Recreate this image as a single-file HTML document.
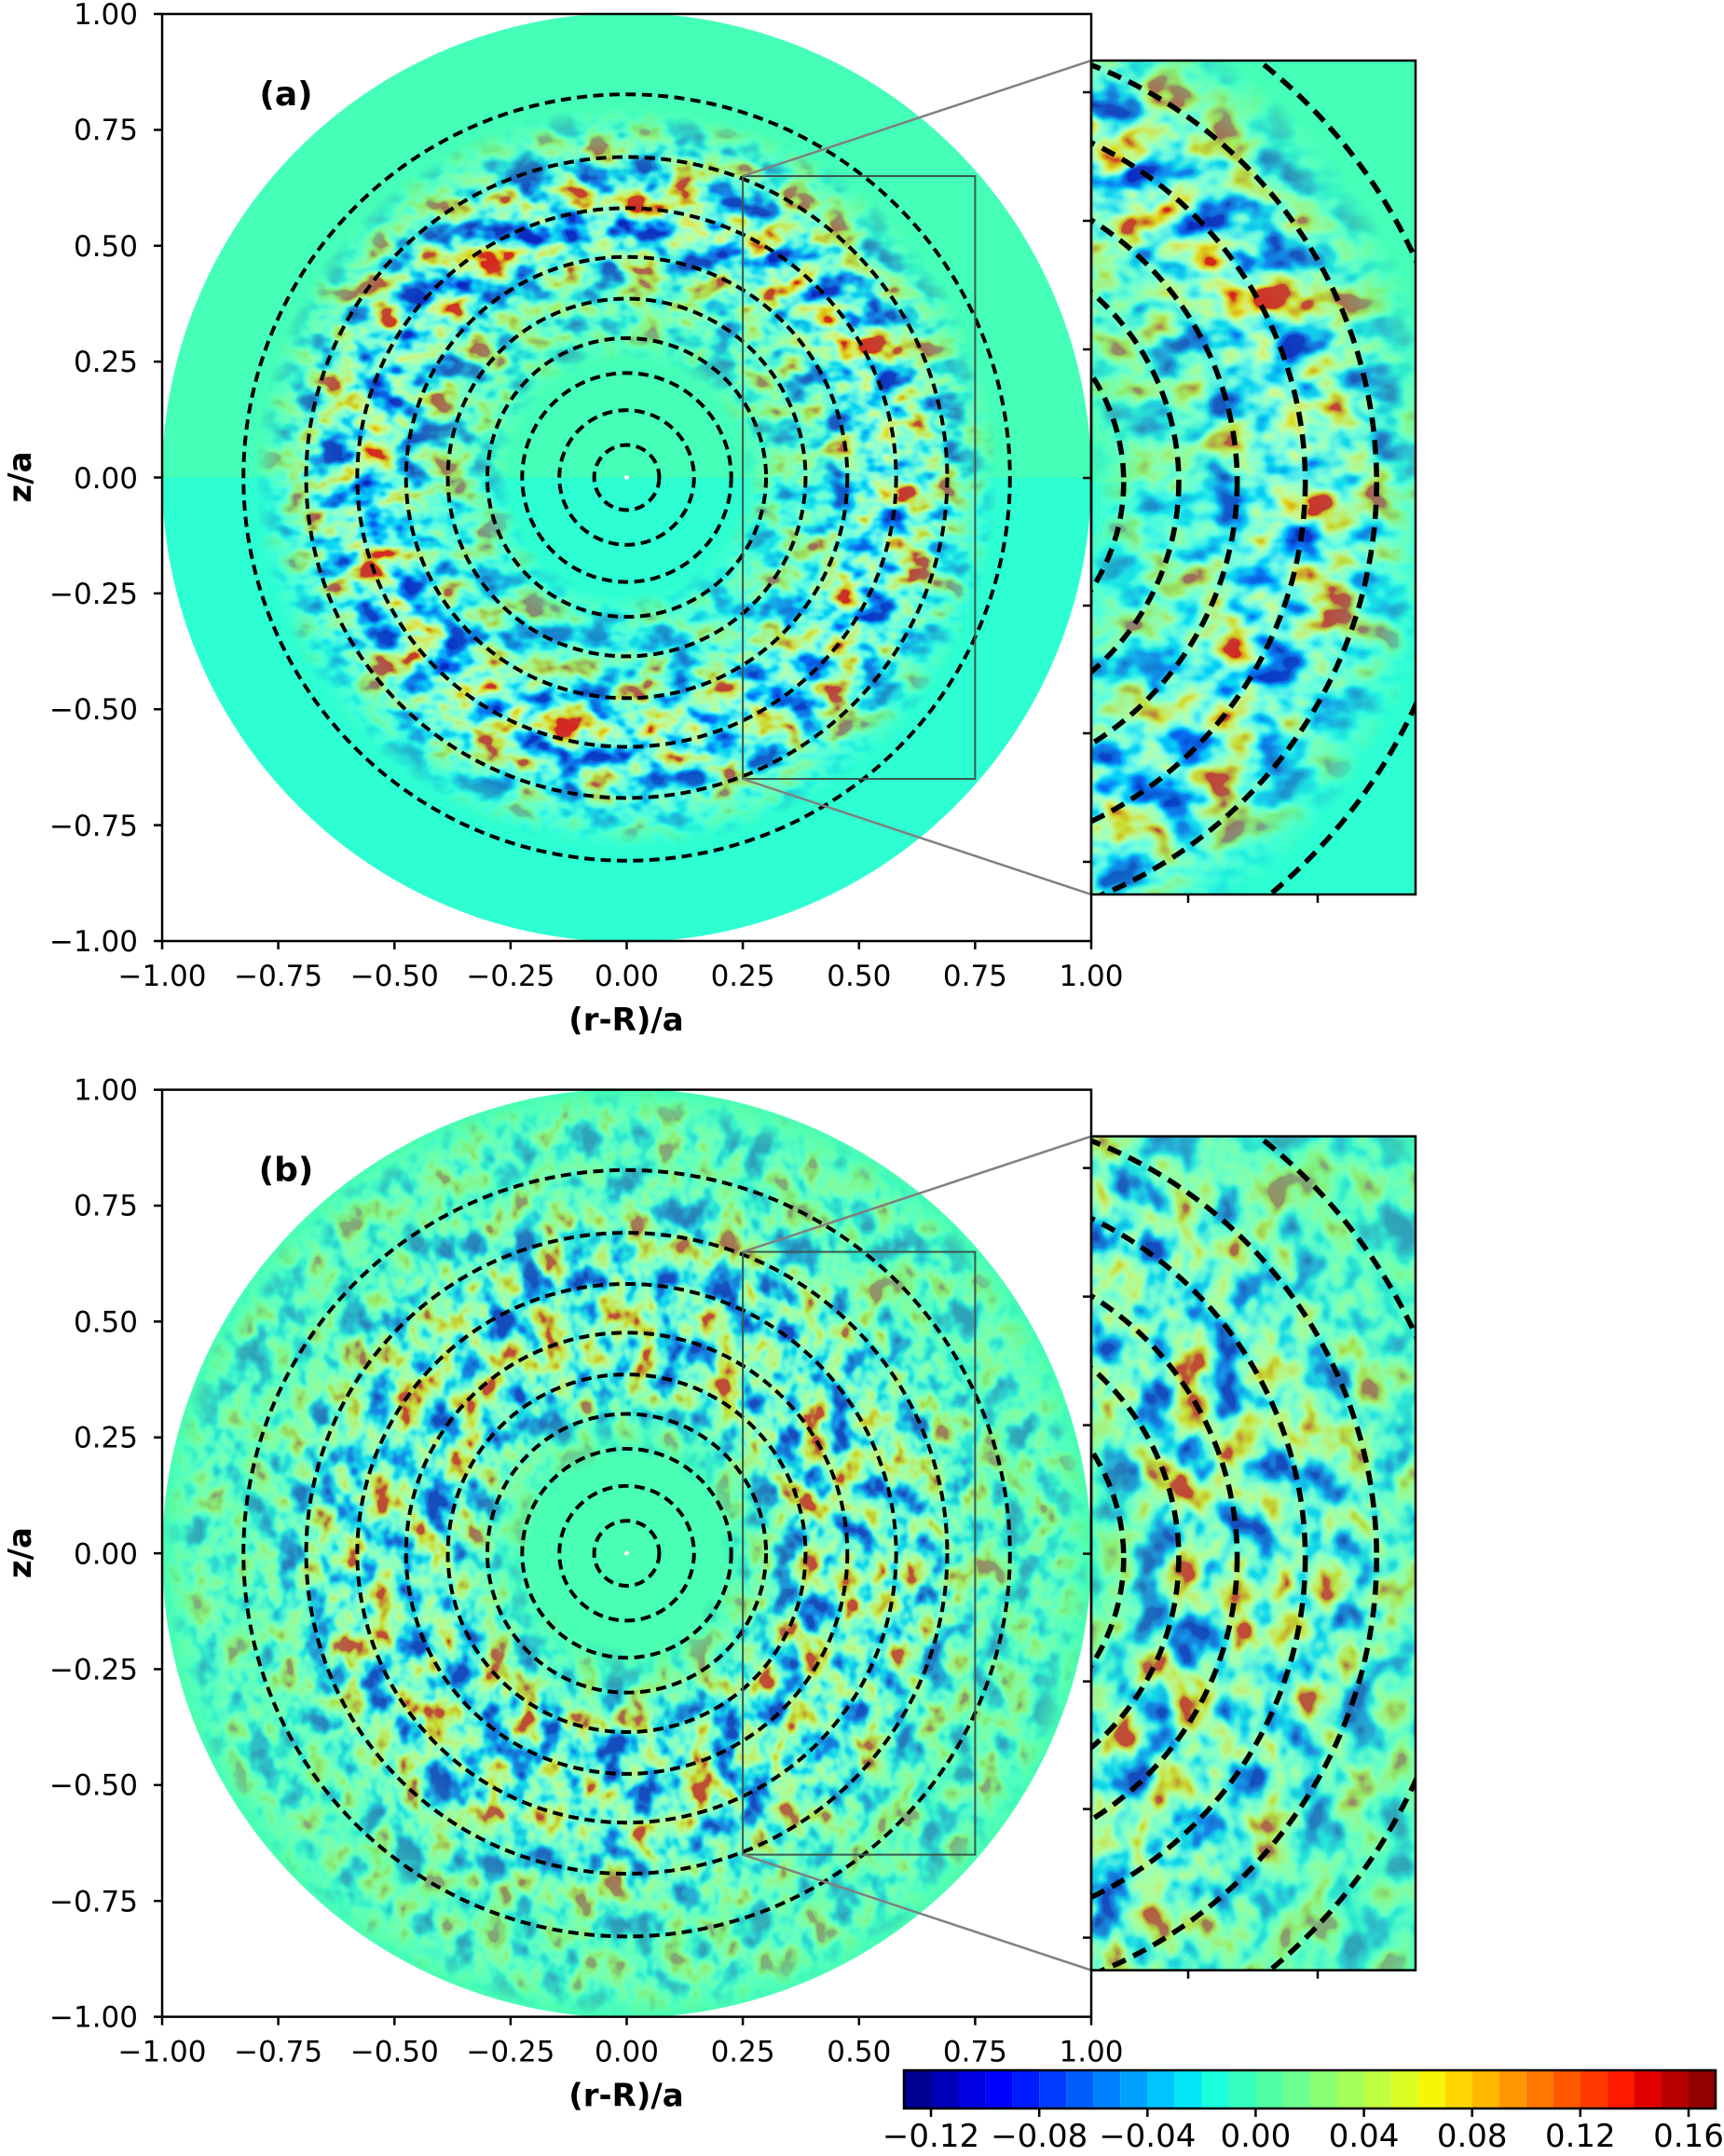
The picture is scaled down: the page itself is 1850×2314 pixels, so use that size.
<!DOCTYPE html>
<html><head><meta charset="utf-8"><style>
html,body{margin:0;padding:0;background:#fff}
svg{display:block}
text{font-family:"DejaVu Sans","Liberation Sans",sans-serif;fill:#000}
.t{font-size:31px}
.b{font-size:34px;font-weight:bold}
</style></head><body>
<svg width="1850" height="2314" viewBox="0 0 1850 2314" xmlns="http://www.w3.org/2000/svg">
<defs>
<radialGradient id="ann" gradientUnits="userSpaceOnUse" cx="0" cy="0" r="1000">
<stop offset="0.25" stop-color="#000"/>
<stop offset="0.4" stop-color="#fff" stop-opacity="0.5"/>
<stop offset="0.55" stop-color="#fff" stop-opacity="0.85"/>
<stop offset="0.65" stop-color="#fff" stop-opacity="0.7"/>
<stop offset="0.8" stop-color="#000"/>
</radialGradient>
<radialGradient id="annb" gradientUnits="userSpaceOnUse" cx="0" cy="0" r="1000">
<stop offset="0.2" stop-color="#000"/>
<stop offset="0.4" stop-color="#fff" stop-opacity="0.7"/>
<stop offset="0.6" stop-color="#fff" stop-opacity="0.7"/>
<stop offset="0.85" stop-color="#fff" stop-opacity="0.3"/>
<stop offset="1" stop-color="#000"/>
</radialGradient>
<mask id="ma" maskUnits="userSpaceOnUse" x="-1000" y="-1000" width="2000" height="2000"><rect x="-1000" y="-1000" width="2000" height="2000" fill="url(#ann)"/></mask>
<mask id="mb" maskUnits="userSpaceOnUse" x="-1000" y="-1000" width="2000" height="2000"><rect x="-1000" y="-1000" width="2000" height="2000" fill="url(#annb)"/></mask>
<clipPath id="disk"><circle cx="0" cy="0" r="1000"/></clipPath>
<filter id="na" filterUnits="userSpaceOnUse" primitiveUnits="userSpaceOnUse" x="-1000" y="-1000" width="2000" height="2000">
<feTurbulence type="fractalNoise" baseFrequency="0.012 0.016" numOctaves="3" seed="7"/>
<feColorMatrix type="matrix" values="1 0 0 0 0 1 0 0 0 0 1 0 0 0 0 0 0 0 0 1"/>
<feComponentTransfer><feFuncR type="linear" slope="2.2" intercept="-0.6"/><feFuncG type="linear" slope="2.2" intercept="-0.6"/><feFuncB type="linear" slope="2.2" intercept="-0.6"/></feComponentTransfer>
<feComponentTransfer>
<feFuncR type="table" tableValues="0 0 0 0.25 0.7 1 0.9"/>
<feFuncG type="table" tableValues="0 0.1 0.65 1 1 0.7 0"/>
<feFuncB type="table" tableValues="0.55 1 1 0.78 0.3 0 0"/>
</feComponentTransfer>
</filter>
<filter id="nb" filterUnits="userSpaceOnUse" primitiveUnits="userSpaceOnUse" x="-1000" y="-1000" width="2000" height="2000">
<feTurbulence type="fractalNoise" baseFrequency="0.016 0.013" numOctaves="3" seed="21"/>
<feColorMatrix type="matrix" values="1 0 0 0 0 1 0 0 0 0 1 0 0 0 0 0 0 0 0 1"/>
<feComponentTransfer><feFuncR type="linear" slope="2.1" intercept="-0.55"/><feFuncG type="linear" slope="2.1" intercept="-0.55"/><feFuncB type="linear" slope="2.1" intercept="-0.55"/></feComponentTransfer>
<feComponentTransfer>
<feFuncR type="table" tableValues="0 0 0 0.27 0.7 1 0.9"/>
<feFuncG type="table" tableValues="0 0.1 0.65 1 1 0.7 0"/>
<feFuncB type="table" tableValues="0.55 1 1 0.7 0.3 0 0"/>
</feComponentTransfer>
</filter>
<g id="rings" fill="none" stroke="#000" stroke-width="8" stroke-dasharray="22 13">
<circle r="70"/><circle r="145"/><circle r="225"/><circle r="300"/><circle r="385"/><circle r="475"/><circle r="580"/><circle r="690"/><circle r="825"/>
</g>
<g id="fa">
<g clip-path="url(#disk)">
<rect x="-1000" y="-1000" width="2000" height="2000" fill="#2effd2"/>
<rect x="-1000" y="-1000" width="2000" height="1000" fill="#45ffb8"/>
<rect x="-1000" y="-1000" width="2000" height="2000" filter="url(#na)" mask="url(#ma)"/>
</g>
<use href="#rings"/>
<circle r="5" fill="#fff"/>
</g>
<g id="fb">
<g clip-path="url(#disk)">
<rect x="-1000" y="-1000" width="2000" height="2000" fill="#48ffb4"/>
<rect x="-1000" y="-1000" width="2000" height="2000" filter="url(#nb)" mask="url(#mb)"/>
</g>
<use href="#rings"/>
<circle r="5" fill="#fff"/>
</g>
<clipPath id="ci"><rect x="1171" y="65" width="348" height="895"/></clipPath>
<g id="axes" stroke="#000" stroke-width="2.5" fill="none">
<rect x="174" y="15" width="997" height="995"/>
<path d="M174 1010v9M298.6 1010v9M423.3 1010v9M547.9 1010v9M672.5 1010v9M797.1 1010v9M921.8 1010v9M1046.4 1010v9M1171 1010v9 M174 15h-9M174 139.4h-9M174 263.8h-9M174 388.1h-9M174 512.5h-9M174 636.9h-9M174 761.3h-9M174 885.6h-9M174 1010h-9"/>
<rect x="797.1" y="189" width="249.3" height="647" stroke="#3a5a50" stroke-width="2"/>
<path d="M797.1 189L1171 65M797.1 836L1171 960" stroke="#808080" stroke-width="2.5"/>
<rect x="1171" y="65" width="348" height="895"/>
<path d="M1171 99h-9M1171 237h-9M1171 375h-9M1171 513h-9M1171 650h-9M1171 787h-9M1171 925h-9M1275 960v9M1414 960v9"/>
</g>
<g id="labs">
<g class="t" text-anchor="end">
<text x="148" y="26">1.00</text><text x="148" y="150">0.75</text><text x="148" y="275">0.50</text><text x="148" y="399">0.25</text><text x="148" y="524">0.00</text><text x="148" y="648">−0.25</text><text x="148" y="772">−0.50</text><text x="148" y="897">−0.75</text><text x="148" y="1021">−1.00</text>
</g>
<g class="t" text-anchor="middle">
<text x="174" y="1058">−1.00</text><text x="298.6" y="1058">−0.75</text><text x="423.3" y="1058">−0.50</text><text x="547.9" y="1058">−0.25</text><text x="672.5" y="1058">0.00</text><text x="797.1" y="1058">0.25</text><text x="921.8" y="1058">0.50</text><text x="1046.4" y="1058">0.75</text><text x="1171" y="1058">1.00</text>
</g>
<text class="b" x="672" y="1106" text-anchor="middle">(r-R)/a</text>
<text class="b" transform="translate(33 512) rotate(-90)" text-anchor="middle">z/a</text>
</g>
</defs>

<use href="#fa" transform="translate(672.5 512.5) scale(0.4985)"/>
<g clip-path="url(#ci)"><use href="#fa" transform="translate(997 517.4) scale(0.696)"/></g>
<use href="#axes"/>
<use href="#labs"/>
<text class="b" x="307" y="113" text-anchor="middle" style="font-size:36px">(a)</text>

<g transform="translate(0 1154.6)">
<use href="#fb" transform="translate(672.5 512.5) scale(0.4985)"/>
<g clip-path="url(#ci)"><use href="#fb" transform="translate(997 517.4) scale(0.696)"/></g>
<use href="#axes"/>
<use href="#labs"/>
<text class="b" x="307" y="113" text-anchor="middle" style="font-size:36px">(b)</text>
</g>

<g>
<rect x="970" y="2222" width="29.1" height="41" fill="rgb(0,0,147)"/>
<rect x="999" y="2222" width="29.1" height="41" fill="rgb(0,0,185)"/>
<rect x="1028" y="2222" width="29.1" height="41" fill="rgb(0,0,224)"/>
<rect x="1057.1" y="2222" width="29.1" height="41" fill="rgb(0,0,255)"/>
<rect x="1086.1" y="2222" width="29.1" height="41" fill="rgb(0,26,255)"/>
<rect x="1115.2" y="2222" width="29.1" height="41" fill="rgb(0,60,255)"/>
<rect x="1144.2" y="2222" width="29.1" height="41" fill="rgb(0,94,255)"/>
<rect x="1173.2" y="2222" width="29.1" height="41" fill="rgb(0,128,255)"/>
<rect x="1202.3" y="2222" width="29.1" height="41" fill="rgb(0,162,255)"/>
<rect x="1231.3" y="2222" width="29.1" height="41" fill="rgb(0,196,255)"/>
<rect x="1260.4" y="2222" width="29.1" height="41" fill="rgb(0,230,247)"/>
<rect x="1289.4" y="2222" width="29.1" height="41" fill="rgb(27,255,219)"/>
<rect x="1318.4" y="2222" width="29.1" height="41" fill="rgb(55,255,192)"/>
<rect x="1347.4" y="2222" width="29.1" height="41" fill="rgb(82,255,164)"/>
<rect x="1376.5" y="2222" width="29.1" height="41" fill="rgb(110,255,145)"/>
<rect x="1405.5" y="2222" width="29.1" height="41" fill="rgb(137,255,118)"/>
<rect x="1434.5" y="2222" width="29.1" height="41" fill="rgb(164,255,91)"/>
<rect x="1463.6" y="2222" width="29.1" height="41" fill="rgb(192,255,63)"/>
<rect x="1492.6" y="2222" width="29.1" height="41" fill="rgb(219,255,36)"/>
<rect x="1521.6" y="2222" width="29.1" height="41" fill="rgb(247,245,8)"/>
<rect x="1550.7" y="2222" width="29.1" height="41" fill="rgb(255,214,0)"/>
<rect x="1579.7" y="2222" width="29.1" height="41" fill="rgb(255,183,0)"/>
<rect x="1608.7" y="2222" width="29.1" height="41" fill="rgb(255,151,0)"/>
<rect x="1637.8" y="2222" width="29.1" height="41" fill="rgb(255,120,0)"/>
<rect x="1666.8" y="2222" width="29.1" height="41" fill="rgb(255,88,0)"/>
<rect x="1695.8" y="2222" width="29.1" height="41" fill="rgb(255,57,0)"/>
<rect x="1724.9" y="2222" width="29.1" height="41" fill="rgb(255,26,0)"/>
<rect x="1753.9" y="2222" width="29.1" height="41" fill="rgb(224,0,0)"/>
<rect x="1783" y="2222" width="29.1" height="41" fill="rgb(185,0,0)"/>
<rect x="1812" y="2222" width="29" height="41" fill="rgb(147,0,0)"/>
<rect x="970" y="2222" width="871" height="41" fill="none" stroke="#000" stroke-width="2.5"/>
<path d="M999 2263v9M1115.2 2263v9M1231.3 2263v9M1347.4 2263v9M1463.6 2263v9M1579.7 2263v9M1695.8 2263v9M1812 2263v9" stroke="#000" stroke-width="2.5"/>
<g text-anchor="middle" style="font-size:34px">
<text x="999" y="2304">−0.12</text><text x="1115.2" y="2304">−0.08</text><text x="1231.3" y="2304">−0.04</text><text x="1347.4" y="2304">0.00</text><text x="1463.6" y="2304">0.04</text><text x="1579.7" y="2304">0.08</text><text x="1695.8" y="2304">0.12</text><text x="1812" y="2304">0.16</text>
</g>
</g>
</svg>
</body></html>
